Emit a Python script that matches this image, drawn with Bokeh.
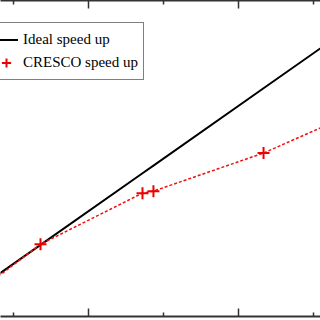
from bokeh.plotting import figure
from bokeh.models import (Range1d, LinearAxis, FixedTicker, Legend, LegendItem, Grid,
                          CustomLabelingPolicy)
from bokeh.embed import file_html
from bokeh.resources import INLINE

# data
cores = [32, 68, 136, 143.3, 216.7, 280]
ideal_speedup = [32, 68, 136, 143.3, 216.7, 280]
cresco_speedup = [29.5, 68.6, 117.1, 119.0, 155.2, 195.0]
x_major_ticks = [100, 200]
x_minor_ticks = [50, 150, 250]
series_labels = ["Ideal speed up", "CRESCO speed up"]

p = figure(width=320, height=320, output_backend="svg", toolbar_location=None,
           x_range=Range1d(41.33, 254.67), y_range=Range1d(0, 300),
           min_border=0, x_axis_location=None, y_axis_location=None,
           outline_line_color=None, background_fill_color="white",
           border_fill_color="white")
p.center = [r for r in p.center if not isinstance(r, Grid)]

axis_style = dict(major_tick_in=8, major_tick_out=0, minor_tick_in=4, minor_tick_out=0,
                  axis_line_width=2, axis_line_color="#333333",
                  major_tick_line_color="#333333", minor_tick_line_color="#333333",
                  major_tick_line_width=1.5, minor_tick_line_width=1.5)

bottom = LinearAxis(ticker=FixedTicker(ticks=x_major_ticks, minor_ticks=x_minor_ticks),
                    major_label_text_font_size="2px", major_label_standoff=0,
                    major_label_text_color="#b0b0b0",
                    major_label_text_font="'Liberation Serif', serif", **axis_style)
p.add_layout(bottom, "below")

top = LinearAxis(ticker=FixedTicker(ticks=x_major_ticks, minor_ticks=x_minor_ticks),
                 major_label_text_font_size="0px", major_label_standoff=0,
                 major_label_policy=CustomLabelingPolicy(
                     code="for (const i of indices) indices.unset(i)"),
                 **axis_style)
p.add_layout(top, "above")

r_ideal = p.line(cores, ideal_speedup, line_color="black", line_width=2)
r_line = p.line(cores, cresco_speedup, line_color="#ee1111", line_width=1.5, line_dash="3 2")
r_sc = p.scatter(cores, cresco_speedup, marker="cross", size=12,
                 line_color="#ee0000", line_width=2)

legend = Legend(items=[LegendItem(label=series_labels[0], renderers=[r_ideal]),
                       LegendItem(label=series_labels[1], renderers=[r_sc])],
                location=(-12, 236), padding=5, spacing=0, margin=0,
                glyph_width=24, glyph_height=23, label_height=23, label_standoff=5,
                label_text_font="'Liberation Serif', 'Times New Roman', serif",
                label_text_font_size="15px",
                label_text_color="black",
                border_line_color="black", border_line_width=1.5,
                background_fill_color="white", background_fill_alpha=1)
p.add_layout(legend)

open("out.html", "w").write(file_html(p, INLINE))
